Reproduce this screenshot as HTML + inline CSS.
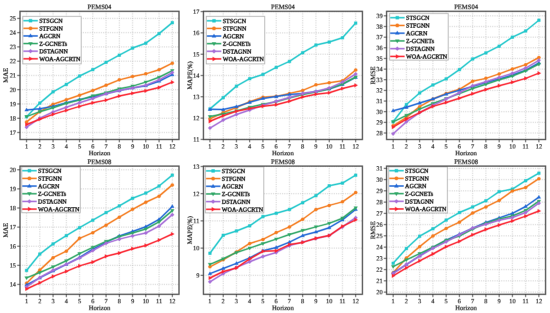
<!DOCTYPE html>
<html><head><meta charset="utf-8"><style>
html,body{margin:0;padding:0;background:#fff;}
body{width:550px;height:313px;overflow:hidden;font-family:"Liberation Serif",serif;}
svg{display:block;will-change:transform;}
text{font-family:"Liberation Serif",serif;fill:#000;stroke:#000;}
.l{stroke-width:0.26px;}
.t{stroke-width:0.1px;}
.a{stroke-width:0.14px;}
</style></head><body>
<svg width="550" height="313" viewBox="0 0 550 313">
<g id="c" transform="translate(-0.25 -0.25)">
<rect x="-2" y="-2" width="554" height="317" fill="#fff"/>
<path d="M26.55 11.3V139.5M39.8 11.3V139.5M53.05 11.3V139.5M66.3 11.3V139.5M79.55 11.3V139.5M92.8 11.3V139.5M106.05 11.3V139.5M119.3 11.3V139.5M132.55 11.3V139.5M145.8 11.3V139.5M159.05 11.3V139.5M172.3 11.3V139.5M20 132.48H179M20 118.22H179M20 103.96H179M20 89.7H179M20 75.44H179M20 61.18H179M20 46.92H179M20 32.66H179M20 18.4H179" stroke="#a8a8a8" stroke-width="0.65" stroke-dasharray="0.8 1.45" fill="none"/>
<polyline points="26.55,116.79 39.8,103.1 53.05,91.84 66.3,84.42 79.55,76.01 92.8,69.59 106.05,62.32 119.3,55.19 132.55,48.06 145.8,43.21 159.05,33.66 172.3,22.68" stroke="#22c8cc" stroke-width="1.5" fill="none" stroke-linejoin="round"/>
<rect x="25" y="115.24" width="3.1" height="3.1" fill="#22c8cc"/>
<rect x="38.25" y="101.55" width="3.1" height="3.1" fill="#22c8cc"/>
<rect x="51.5" y="90.29" width="3.1" height="3.1" fill="#22c8cc"/>
<rect x="64.75" y="82.87" width="3.1" height="3.1" fill="#22c8cc"/>
<rect x="78" y="74.46" width="3.1" height="3.1" fill="#22c8cc"/>
<rect x="91.25" y="68.04" width="3.1" height="3.1" fill="#22c8cc"/>
<rect x="104.5" y="60.77" width="3.1" height="3.1" fill="#22c8cc"/>
<rect x="117.75" y="53.64" width="3.1" height="3.1" fill="#22c8cc"/>
<rect x="131" y="46.51" width="3.1" height="3.1" fill="#22c8cc"/>
<rect x="144.25" y="41.66" width="3.1" height="3.1" fill="#22c8cc"/>
<rect x="157.5" y="32.11" width="3.1" height="3.1" fill="#22c8cc"/>
<rect x="170.75" y="21.13" width="3.1" height="3.1" fill="#22c8cc"/>
<polyline points="26.55,121.93 39.8,111.66 53.05,104.25 66.3,99.68 79.55,95.26 92.8,90.56 106.05,85.28 119.3,79.86 132.55,76.58 145.8,73.87 159.05,69.74 172.3,63.18" stroke="#f57c1e" stroke-width="1.5" fill="none" stroke-linejoin="round"/>
<circle cx="26.55" cy="121.93" r="1.75" fill="#f57c1e"/>
<circle cx="39.8" cy="111.66" r="1.75" fill="#f57c1e"/>
<circle cx="53.05" cy="104.25" r="1.75" fill="#f57c1e"/>
<circle cx="66.3" cy="99.68" r="1.75" fill="#f57c1e"/>
<circle cx="79.55" cy="95.26" r="1.75" fill="#f57c1e"/>
<circle cx="92.8" cy="90.56" r="1.75" fill="#f57c1e"/>
<circle cx="106.05" cy="85.28" r="1.75" fill="#f57c1e"/>
<circle cx="119.3" cy="79.86" r="1.75" fill="#f57c1e"/>
<circle cx="132.55" cy="76.58" r="1.75" fill="#f57c1e"/>
<circle cx="145.8" cy="73.87" r="1.75" fill="#f57c1e"/>
<circle cx="159.05" cy="69.74" r="1.75" fill="#f57c1e"/>
<circle cx="172.3" cy="63.18" r="1.75" fill="#f57c1e"/>
<polyline points="26.55,109.95 39.8,108.67 53.05,106.38 66.3,102.82 79.55,99.4 92.8,96.69 106.05,93.69 119.3,90.56 132.55,87.99 145.8,85.71 159.05,81.29 172.3,74.58" stroke="#2168d6" stroke-width="1.5" fill="none" stroke-linejoin="round"/>
<polygon points="26.55,107.75 24.46,111.27 28.64,111.27" fill="#2168d6"/>
<polygon points="39.8,106.47 37.71,109.99 41.89,109.99" fill="#2168d6"/>
<polygon points="53.05,104.18 50.96,107.7 55.14,107.7" fill="#2168d6"/>
<polygon points="66.3,100.62 64.21,104.14 68.39,104.14" fill="#2168d6"/>
<polygon points="79.55,97.2 77.46,100.72 81.64,100.72" fill="#2168d6"/>
<polygon points="92.8,94.49 90.71,98.01 94.89,98.01" fill="#2168d6"/>
<polygon points="106.05,91.49 103.96,95.01 108.14,95.01" fill="#2168d6"/>
<polygon points="119.3,88.36 117.21,91.88 121.39,91.88" fill="#2168d6"/>
<polygon points="132.55,85.79 130.46,89.31 134.64,89.31" fill="#2168d6"/>
<polygon points="145.8,83.51 143.71,87.03 147.89,87.03" fill="#2168d6"/>
<polygon points="159.05,79.09 156.96,82.61 161.14,82.61" fill="#2168d6"/>
<polygon points="172.3,72.38 170.21,75.9 174.39,75.9" fill="#2168d6"/>
<polyline points="26.55,116.65 39.8,111.66 53.05,107.81 66.3,103.39 79.55,100.11 92.8,95.83 106.05,92.84 119.3,88.84 132.55,86.13 145.8,82.14 159.05,77.29 172.3,70.59" stroke="#2fa766" stroke-width="1.5" fill="none" stroke-linejoin="round"/>
<polygon points="26.55,118.85 24.46,115.33 28.64,115.33" fill="#2fa766"/>
<polygon points="39.8,113.86 37.71,110.34 41.89,110.34" fill="#2fa766"/>
<polygon points="53.05,110.01 50.96,106.49 55.14,106.49" fill="#2fa766"/>
<polygon points="66.3,105.59 64.21,102.07 68.39,102.07" fill="#2fa766"/>
<polygon points="79.55,102.31 77.46,98.79 81.64,98.79" fill="#2fa766"/>
<polygon points="92.8,98.03 90.71,94.51 94.89,94.51" fill="#2fa766"/>
<polygon points="106.05,95.04 103.96,91.52 108.14,91.52" fill="#2fa766"/>
<polygon points="119.3,91.04 117.21,87.52 121.39,87.52" fill="#2fa766"/>
<polygon points="132.55,88.33 130.46,84.81 134.64,84.81" fill="#2fa766"/>
<polygon points="145.8,84.34 143.71,80.82 147.89,80.82" fill="#2fa766"/>
<polygon points="159.05,79.49 156.96,75.97 161.14,75.97" fill="#2fa766"/>
<polygon points="172.3,72.79 170.21,69.27 174.39,69.27" fill="#2fa766"/>
<polyline points="26.55,127.2 39.8,118.08 53.05,111.95 66.3,107.24 79.55,102.82 92.8,98.54 106.05,93.69 119.3,90.56 132.55,87.99 145.8,85.14 159.05,79.86 172.3,72.59" stroke="#a66dd8" stroke-width="1.5" fill="none" stroke-linejoin="round"/>
<polygon points="26.55,125.2 28.55,127.2 26.55,129.2 24.55,127.2" fill="#a66dd8"/>
<polygon points="39.8,116.08 41.8,118.08 39.8,120.08 37.8,118.08" fill="#a66dd8"/>
<polygon points="53.05,109.95 55.05,111.95 53.05,113.95 51.05,111.95" fill="#a66dd8"/>
<polygon points="66.3,105.24 68.3,107.24 66.3,109.24 64.3,107.24" fill="#a66dd8"/>
<polygon points="79.55,100.82 81.55,102.82 79.55,104.82 77.55,102.82" fill="#a66dd8"/>
<polygon points="92.8,96.54 94.8,98.54 92.8,100.54 90.8,98.54" fill="#a66dd8"/>
<polygon points="106.05,91.69 108.05,93.69 106.05,95.69 104.05,93.69" fill="#a66dd8"/>
<polygon points="119.3,88.56 121.3,90.56 119.3,92.56 117.3,90.56" fill="#a66dd8"/>
<polygon points="132.55,85.99 134.55,87.99 132.55,89.99 130.55,87.99" fill="#a66dd8"/>
<polygon points="145.8,83.14 147.8,85.14 145.8,87.14 143.8,85.14" fill="#a66dd8"/>
<polygon points="159.05,77.86 161.05,79.86 159.05,81.86 157.05,79.86" fill="#a66dd8"/>
<polygon points="172.3,70.59 174.3,72.59 172.3,74.59 170.3,72.59" fill="#a66dd8"/>
<polyline points="26.55,124.49 39.8,119.22 53.05,114.37 66.3,110.38 79.55,106.38 92.8,102.82 106.05,100.11 119.3,95.97 132.55,93.26 145.8,90.84 159.05,87.56 172.3,82.14" stroke="#fb2430" stroke-width="1.5" fill="none" stroke-linejoin="round"/>
<polygon points="28.75,124.49 25.23,122.4 25.23,126.58" fill="#fb2430"/>
<polygon points="42,119.22 38.48,117.13 38.48,121.31" fill="#fb2430"/>
<polygon points="55.25,114.37 51.73,112.28 51.73,116.46" fill="#fb2430"/>
<polygon points="68.5,110.38 64.98,108.29 64.98,112.47" fill="#fb2430"/>
<polygon points="81.75,106.38 78.23,104.29 78.23,108.47" fill="#fb2430"/>
<polygon points="95,102.82 91.48,100.73 91.48,104.91" fill="#fb2430"/>
<polygon points="108.25,100.11 104.73,98.02 104.73,102.2" fill="#fb2430"/>
<polygon points="121.5,95.97 117.98,93.88 117.98,98.06" fill="#fb2430"/>
<polygon points="134.75,93.26 131.23,91.17 131.23,95.35" fill="#fb2430"/>
<polygon points="148,90.84 144.48,88.75 144.48,92.93" fill="#fb2430"/>
<polygon points="161.25,87.56 157.73,85.47 157.73,89.65" fill="#fb2430"/>
<polygon points="174.5,82.14 170.98,80.05 170.98,84.23" fill="#fb2430"/>
<rect x="22.8" y="16.4" width="58.4" height="47.5" fill="#fff" stroke="#b0b0b0" stroke-width="0.8"/>
<line x1="23.4" y1="20.7" x2="37.8" y2="20.7" stroke="#22c8cc" stroke-width="1.5"/>
<rect x="28.83" y="19.03" width="3.35" height="3.35" fill="#22c8cc"/>
<text class="l" x="39.2" y="22.8" transform="rotate(0.1 39.2 22.8)" font-size="6.1">STSGCN</text>
<line x1="23.4" y1="28.32" x2="37.8" y2="28.32" stroke="#f57c1e" stroke-width="1.5"/>
<circle cx="30.5" cy="28.32" r="1.89" fill="#f57c1e"/>
<text class="l" x="39.2" y="30.42" transform="rotate(0.1 39.2 30.42)" font-size="6.1">STFGNN</text>
<line x1="23.4" y1="35.94" x2="37.8" y2="35.94" stroke="#2168d6" stroke-width="1.5"/>
<polygon points="30.5,33.56 28.24,37.37 32.76,37.37" fill="#2168d6"/>
<text class="l" x="39.2" y="38.04" transform="rotate(0.1 39.2 38.04)" font-size="6.1">AGCRN</text>
<line x1="23.4" y1="43.56" x2="37.8" y2="43.56" stroke="#2fa766" stroke-width="1.5"/>
<polygon points="30.5,45.94 28.24,42.13 32.76,42.13" fill="#2fa766"/>
<text class="l" x="39.2" y="45.66" transform="rotate(0.1 39.2 45.66)" font-size="6.1">Z-GCNETs</text>
<line x1="23.4" y1="51.18" x2="37.8" y2="51.18" stroke="#a66dd8" stroke-width="1.5"/>
<polygon points="30.5,49.02 32.66,51.18 30.5,53.34 28.34,51.18" fill="#a66dd8"/>
<text class="l" x="39.2" y="53.28" transform="rotate(0.1 39.2 53.28)" font-size="6.1">DSTAGNN</text>
<line x1="23.4" y1="58.8" x2="37.8" y2="58.8" stroke="#fb2430" stroke-width="1.5"/>
<polygon points="32.88,58.8 29.07,56.54 29.07,61.06" fill="#fb2430"/>
<text class="l" x="39.2" y="60.9" transform="rotate(0.1 39.2 60.9)" font-size="6.1">WOA-AGCRTN</text>
<rect x="20" y="11.3" width="159" height="128.2" fill="none" stroke="#525252" stroke-width="1.3"/>
<path d="M26.55 139.5v2.8M39.8 139.5v2.8M53.05 139.5v2.8M66.3 139.5v2.8M79.55 139.5v2.8M92.8 139.5v2.8M106.05 139.5v2.8M119.3 139.5v2.8M132.55 139.5v2.8M145.8 139.5v2.8M159.05 139.5v2.8M172.3 139.5v2.8M20 132.48h-2.8M20 118.22h-2.8M20 103.96h-2.8M20 89.7h-2.8M20 75.44h-2.8M20 61.18h-2.8M20 46.92h-2.8M20 32.66h-2.8M20 18.4h-2.8" stroke="#333" stroke-width="0.8" fill="none"/>
<text class="t" x="26.55" y="148.5" transform="rotate(0.1 26.55 148.5)" font-size="6.3" text-anchor="middle">1</text>
<text class="t" x="39.8" y="148.5" transform="rotate(0.1 39.8 148.5)" font-size="6.3" text-anchor="middle">2</text>
<text class="t" x="53.05" y="148.5" transform="rotate(0.1 53.05 148.5)" font-size="6.3" text-anchor="middle">3</text>
<text class="t" x="66.3" y="148.5" transform="rotate(0.1 66.3 148.5)" font-size="6.3" text-anchor="middle">4</text>
<text class="t" x="79.55" y="148.5" transform="rotate(0.1 79.55 148.5)" font-size="6.3" text-anchor="middle">5</text>
<text class="t" x="92.8" y="148.5" transform="rotate(0.1 92.8 148.5)" font-size="6.3" text-anchor="middle">6</text>
<text class="t" x="106.05" y="148.5" transform="rotate(0.1 106.05 148.5)" font-size="6.3" text-anchor="middle">7</text>
<text class="t" x="119.3" y="148.5" transform="rotate(0.1 119.3 148.5)" font-size="6.3" text-anchor="middle">8</text>
<text class="t" x="132.55" y="148.5" transform="rotate(0.1 132.55 148.5)" font-size="6.3" text-anchor="middle">9</text>
<text class="t" x="145.8" y="148.5" transform="rotate(0.1 145.8 148.5)" font-size="6.3" text-anchor="middle">10</text>
<text class="t" x="159.05" y="148.5" transform="rotate(0.1 159.05 148.5)" font-size="6.3" text-anchor="middle">11</text>
<text class="t" x="172.3" y="148.5" transform="rotate(0.1 172.3 148.5)" font-size="6.3" text-anchor="middle">12</text>
<text class="t" x="16" y="134.68" transform="rotate(0.1 16 134.68)" font-size="6.3" text-anchor="end">17</text>
<text class="t" x="16" y="120.42" transform="rotate(0.1 16 120.42)" font-size="6.3" text-anchor="end">18</text>
<text class="t" x="16" y="106.16" transform="rotate(0.1 16 106.16)" font-size="6.3" text-anchor="end">19</text>
<text class="t" x="16" y="91.9" transform="rotate(0.1 16 91.9)" font-size="6.3" text-anchor="end">20</text>
<text class="t" x="16" y="77.64" transform="rotate(0.1 16 77.64)" font-size="6.3" text-anchor="end">21</text>
<text class="t" x="16" y="63.38" transform="rotate(0.1 16 63.38)" font-size="6.3" text-anchor="end">22</text>
<text class="t" x="16" y="49.12" transform="rotate(0.1 16 49.12)" font-size="6.3" text-anchor="end">23</text>
<text class="t" x="16" y="34.86" transform="rotate(0.1 16 34.86)" font-size="6.3" text-anchor="end">24</text>
<text class="t" x="16" y="20.6" transform="rotate(0.1 16 20.6)" font-size="6.3" text-anchor="end">25</text>
<text class="a" x="99.5" y="155.3" transform="rotate(0.1 99.5 155.3)" font-size="6.6" text-anchor="middle">Horizon</text>
<text class="a" x="99.5" y="9.1" transform="rotate(0.1 99.5 9.1)" font-size="6.6" text-anchor="middle">PEMS04</text>
<text class="a" x="7.8" y="75.4" transform="rotate(-89.9 7.8 75.4)" font-size="6.6" text-anchor="middle">MAE</text>
<path d="M209.95 11.3V139.5M223.2 11.3V139.5M236.45 11.3V139.5M249.7 11.3V139.5M262.95 11.3V139.5M276.2 11.3V139.5M289.45 11.3V139.5M302.7 11.3V139.5M315.95 11.3V139.5M329.2 11.3V139.5M342.45 11.3V139.5M355.7 11.3V139.5M203.4 139.4H362.4M203.4 118.1H362.4M203.4 96.8H362.4M203.4 75.5H362.4M203.4 54.2H362.4M203.4 32.9H362.4M203.4 11.6H362.4" stroke="#a8a8a8" stroke-width="0.65" stroke-dasharray="0.8 1.45" fill="none"/>
<polyline points="209.95,108.94 223.2,97.65 236.45,86.15 249.7,78.7 262.95,74.43 276.2,67.41 289.45,61.44 302.7,52.71 315.95,45.04 329.2,42.06 342.45,37.8 355.7,23.1" stroke="#22c8cc" stroke-width="1.5" fill="none" stroke-linejoin="round"/>
<rect x="208.4" y="107.39" width="3.1" height="3.1" fill="#22c8cc"/>
<rect x="221.65" y="96.1" width="3.1" height="3.1" fill="#22c8cc"/>
<rect x="234.9" y="84.6" width="3.1" height="3.1" fill="#22c8cc"/>
<rect x="248.15" y="77.15" width="3.1" height="3.1" fill="#22c8cc"/>
<rect x="261.4" y="72.88" width="3.1" height="3.1" fill="#22c8cc"/>
<rect x="274.65" y="65.86" width="3.1" height="3.1" fill="#22c8cc"/>
<rect x="287.9" y="59.89" width="3.1" height="3.1" fill="#22c8cc"/>
<rect x="301.15" y="51.16" width="3.1" height="3.1" fill="#22c8cc"/>
<rect x="314.4" y="43.49" width="3.1" height="3.1" fill="#22c8cc"/>
<rect x="327.65" y="40.51" width="3.1" height="3.1" fill="#22c8cc"/>
<rect x="340.9" y="36.25" width="3.1" height="3.1" fill="#22c8cc"/>
<rect x="354.15" y="21.55" width="3.1" height="3.1" fill="#22c8cc"/>
<polyline points="209.95,118.74 223.2,112.56 236.45,107.45 249.7,101.7 262.95,97.23 276.2,96.37 289.45,93.39 302.7,90.41 315.95,84.87 329.2,82.74 342.45,80.83 355.7,69.96" stroke="#f57c1e" stroke-width="1.5" fill="none" stroke-linejoin="round"/>
<circle cx="209.95" cy="118.74" r="1.75" fill="#f57c1e"/>
<circle cx="223.2" cy="112.56" r="1.75" fill="#f57c1e"/>
<circle cx="236.45" cy="107.45" r="1.75" fill="#f57c1e"/>
<circle cx="249.7" cy="101.7" r="1.75" fill="#f57c1e"/>
<circle cx="262.95" cy="97.23" r="1.75" fill="#f57c1e"/>
<circle cx="276.2" cy="96.37" r="1.75" fill="#f57c1e"/>
<circle cx="289.45" cy="93.39" r="1.75" fill="#f57c1e"/>
<circle cx="302.7" cy="90.41" r="1.75" fill="#f57c1e"/>
<circle cx="315.95" cy="84.87" r="1.75" fill="#f57c1e"/>
<circle cx="329.2" cy="82.74" r="1.75" fill="#f57c1e"/>
<circle cx="342.45" cy="80.83" r="1.75" fill="#f57c1e"/>
<circle cx="355.7" cy="69.96" r="1.75" fill="#f57c1e"/>
<polyline points="209.95,109.37 223.2,109.58 236.45,106.6 249.7,102.34 262.95,98.5 276.2,96.59 289.45,94.46 302.7,93.39 315.95,91.47 329.2,88.92 342.45,84.45 355.7,77.42" stroke="#2168d6" stroke-width="1.5" fill="none" stroke-linejoin="round"/>
<polygon points="209.95,107.17 207.86,110.69 212.04,110.69" fill="#2168d6"/>
<polygon points="223.2,107.38 221.11,110.9 225.29,110.9" fill="#2168d6"/>
<polygon points="236.45,104.4 234.36,107.92 238.54,107.92" fill="#2168d6"/>
<polygon points="249.7,100.14 247.61,103.66 251.79,103.66" fill="#2168d6"/>
<polygon points="262.95,96.3 260.86,99.82 265.04,99.82" fill="#2168d6"/>
<polygon points="276.2,94.39 274.11,97.91 278.29,97.91" fill="#2168d6"/>
<polygon points="289.45,92.26 287.36,95.78 291.54,95.78" fill="#2168d6"/>
<polygon points="302.7,91.19 300.61,94.71 304.79,94.71" fill="#2168d6"/>
<polygon points="315.95,89.27 313.86,92.79 318.04,92.79" fill="#2168d6"/>
<polygon points="329.2,86.72 327.11,90.24 331.29,90.24" fill="#2168d6"/>
<polygon points="342.45,82.25 340.36,85.77 344.54,85.77" fill="#2168d6"/>
<polygon points="355.7,75.22 353.61,78.74 357.79,78.74" fill="#2168d6"/>
<polyline points="209.95,116.61 223.2,114.05 236.45,110.86 249.7,107.24 262.95,104.25 276.2,101.7 289.45,98.08 302.7,94.46 315.95,91.9 329.2,88.92 342.45,84.02 355.7,76.99" stroke="#2fa766" stroke-width="1.5" fill="none" stroke-linejoin="round"/>
<polygon points="209.95,118.81 207.86,115.29 212.04,115.29" fill="#2fa766"/>
<polygon points="223.2,116.25 221.11,112.73 225.29,112.73" fill="#2fa766"/>
<polygon points="236.45,113.06 234.36,109.54 238.54,109.54" fill="#2fa766"/>
<polygon points="249.7,109.44 247.61,105.92 251.79,105.92" fill="#2fa766"/>
<polygon points="262.95,106.45 260.86,102.94 265.04,102.94" fill="#2fa766"/>
<polygon points="276.2,103.9 274.11,100.38 278.29,100.38" fill="#2fa766"/>
<polygon points="289.45,100.28 287.36,96.76 291.54,96.76" fill="#2fa766"/>
<polygon points="302.7,96.66 300.61,93.14 304.79,93.14" fill="#2fa766"/>
<polygon points="315.95,94.1 313.86,90.58 318.04,90.58" fill="#2fa766"/>
<polygon points="329.2,91.12 327.11,87.6 331.29,87.6" fill="#2fa766"/>
<polygon points="342.45,86.22 340.36,82.7 344.54,82.7" fill="#2fa766"/>
<polygon points="355.7,79.19 353.61,75.67 357.79,75.67" fill="#2fa766"/>
<polyline points="209.95,128.11 223.2,120.02 236.45,114.48 249.7,110.01 262.95,105.32 276.2,101.27 289.45,97.44 302.7,93.6 315.95,91.47 329.2,88.07 342.45,82.1 355.7,74.01" stroke="#a66dd8" stroke-width="1.5" fill="none" stroke-linejoin="round"/>
<polygon points="209.95,126.11 211.95,128.11 209.95,130.11 207.95,128.11" fill="#a66dd8"/>
<polygon points="223.2,118.02 225.2,120.02 223.2,122.02 221.2,120.02" fill="#a66dd8"/>
<polygon points="236.45,112.48 238.45,114.48 236.45,116.48 234.45,114.48" fill="#a66dd8"/>
<polygon points="249.7,108.01 251.7,110.01 249.7,112.01 247.7,110.01" fill="#a66dd8"/>
<polygon points="262.95,103.32 264.95,105.32 262.95,107.32 260.95,105.32" fill="#a66dd8"/>
<polygon points="276.2,99.27 278.2,101.27 276.2,103.27 274.2,101.27" fill="#a66dd8"/>
<polygon points="289.45,95.44 291.45,97.44 289.45,99.44 287.45,97.44" fill="#a66dd8"/>
<polygon points="302.7,91.6 304.7,93.6 302.7,95.6 300.7,93.6" fill="#a66dd8"/>
<polygon points="315.95,89.47 317.95,91.47 315.95,93.47 313.95,91.47" fill="#a66dd8"/>
<polygon points="329.2,86.07 331.2,88.07 329.2,90.07 327.2,88.07" fill="#a66dd8"/>
<polygon points="342.45,80.1 344.45,82.1 342.45,84.1 340.45,82.1" fill="#a66dd8"/>
<polygon points="355.7,72.01 357.7,74.01 355.7,76.01 353.7,74.01" fill="#a66dd8"/>
<polyline points="209.95,121.3 223.2,115.76 236.45,111.28 249.7,108.52 262.95,106.17 276.2,104.68 289.45,101.27 302.7,97.01 315.95,94.24 329.2,92.75 342.45,88.49 355.7,85.3" stroke="#fb2430" stroke-width="1.5" fill="none" stroke-linejoin="round"/>
<polygon points="212.15,121.3 208.63,119.21 208.63,123.39" fill="#fb2430"/>
<polygon points="225.4,115.76 221.88,113.67 221.88,117.85" fill="#fb2430"/>
<polygon points="238.65,111.28 235.13,109.19 235.13,113.37" fill="#fb2430"/>
<polygon points="251.9,108.52 248.38,106.43 248.38,110.61" fill="#fb2430"/>
<polygon points="265.15,106.17 261.63,104.08 261.63,108.26" fill="#fb2430"/>
<polygon points="278.4,104.68 274.88,102.59 274.88,106.77" fill="#fb2430"/>
<polygon points="291.65,101.27 288.13,99.18 288.13,103.36" fill="#fb2430"/>
<polygon points="304.9,97.01 301.38,94.92 301.38,99.1" fill="#fb2430"/>
<polygon points="318.15,94.24 314.63,92.15 314.63,96.33" fill="#fb2430"/>
<polygon points="331.4,92.75 327.88,90.66 327.88,94.84" fill="#fb2430"/>
<polygon points="344.65,88.49 341.13,86.4 341.13,90.58" fill="#fb2430"/>
<polygon points="357.9,85.3 354.38,83.21 354.38,87.39" fill="#fb2430"/>
<rect x="206.3" y="16.4" width="58.4" height="47.5" fill="#fff" stroke="#b0b0b0" stroke-width="0.8"/>
<line x1="206.9" y1="20.8" x2="221.3" y2="20.8" stroke="#22c8cc" stroke-width="1.5"/>
<rect x="212.33" y="19.13" width="3.35" height="3.35" fill="#22c8cc"/>
<text class="l" x="222.7" y="22.9" transform="rotate(0.1 222.7 22.9)" font-size="6.1">STSGCN</text>
<line x1="206.9" y1="28.42" x2="221.3" y2="28.42" stroke="#f57c1e" stroke-width="1.5"/>
<circle cx="214" cy="28.42" r="1.89" fill="#f57c1e"/>
<text class="l" x="222.7" y="30.52" transform="rotate(0.1 222.7 30.52)" font-size="6.1">STFGNN</text>
<line x1="206.9" y1="36.04" x2="221.3" y2="36.04" stroke="#2168d6" stroke-width="1.5"/>
<polygon points="214,33.66 211.74,37.47 216.26,37.47" fill="#2168d6"/>
<text class="l" x="222.7" y="38.14" transform="rotate(0.1 222.7 38.14)" font-size="6.1">AGCRN</text>
<line x1="206.9" y1="43.66" x2="221.3" y2="43.66" stroke="#2fa766" stroke-width="1.5"/>
<polygon points="214,46.04 211.74,42.23 216.26,42.23" fill="#2fa766"/>
<text class="l" x="222.7" y="45.76" transform="rotate(0.1 222.7 45.76)" font-size="6.1">Z-GCNETs</text>
<line x1="206.9" y1="51.28" x2="221.3" y2="51.28" stroke="#a66dd8" stroke-width="1.5"/>
<polygon points="214,49.12 216.16,51.28 214,53.44 211.84,51.28" fill="#a66dd8"/>
<text class="l" x="222.7" y="53.38" transform="rotate(0.1 222.7 53.38)" font-size="6.1">DSTAGNN</text>
<line x1="206.9" y1="58.9" x2="221.3" y2="58.9" stroke="#fb2430" stroke-width="1.5"/>
<polygon points="216.38,58.9 212.57,56.64 212.57,61.16" fill="#fb2430"/>
<text class="l" x="222.7" y="61" transform="rotate(0.1 222.7 61)" font-size="6.1">WOA-AGCRTN</text>
<rect x="203.4" y="11.3" width="159" height="128.2" fill="none" stroke="#525252" stroke-width="1.3"/>
<path d="M209.95 139.5v2.8M223.2 139.5v2.8M236.45 139.5v2.8M249.7 139.5v2.8M262.95 139.5v2.8M276.2 139.5v2.8M289.45 139.5v2.8M302.7 139.5v2.8M315.95 139.5v2.8M329.2 139.5v2.8M342.45 139.5v2.8M355.7 139.5v2.8M203.4 139.4h-2.8M203.4 118.1h-2.8M203.4 96.8h-2.8M203.4 75.5h-2.8M203.4 54.2h-2.8M203.4 32.9h-2.8M203.4 11.6h-2.8" stroke="#333" stroke-width="0.8" fill="none"/>
<text class="t" x="209.95" y="148.5" transform="rotate(0.1 209.95 148.5)" font-size="6.3" text-anchor="middle">1</text>
<text class="t" x="223.2" y="148.5" transform="rotate(0.1 223.2 148.5)" font-size="6.3" text-anchor="middle">2</text>
<text class="t" x="236.45" y="148.5" transform="rotate(0.1 236.45 148.5)" font-size="6.3" text-anchor="middle">3</text>
<text class="t" x="249.7" y="148.5" transform="rotate(0.1 249.7 148.5)" font-size="6.3" text-anchor="middle">4</text>
<text class="t" x="262.95" y="148.5" transform="rotate(0.1 262.95 148.5)" font-size="6.3" text-anchor="middle">5</text>
<text class="t" x="276.2" y="148.5" transform="rotate(0.1 276.2 148.5)" font-size="6.3" text-anchor="middle">6</text>
<text class="t" x="289.45" y="148.5" transform="rotate(0.1 289.45 148.5)" font-size="6.3" text-anchor="middle">7</text>
<text class="t" x="302.7" y="148.5" transform="rotate(0.1 302.7 148.5)" font-size="6.3" text-anchor="middle">8</text>
<text class="t" x="315.95" y="148.5" transform="rotate(0.1 315.95 148.5)" font-size="6.3" text-anchor="middle">9</text>
<text class="t" x="329.2" y="148.5" transform="rotate(0.1 329.2 148.5)" font-size="6.3" text-anchor="middle">10</text>
<text class="t" x="342.45" y="148.5" transform="rotate(0.1 342.45 148.5)" font-size="6.3" text-anchor="middle">11</text>
<text class="t" x="355.7" y="148.5" transform="rotate(0.1 355.7 148.5)" font-size="6.3" text-anchor="middle">12</text>
<text class="t" x="199.4" y="141.6" transform="rotate(0.1 199.4 141.6)" font-size="6.3" text-anchor="end">11</text>
<text class="t" x="199.4" y="120.3" transform="rotate(0.1 199.4 120.3)" font-size="6.3" text-anchor="end">12</text>
<text class="t" x="199.4" y="99" transform="rotate(0.1 199.4 99)" font-size="6.3" text-anchor="end">13</text>
<text class="t" x="199.4" y="77.7" transform="rotate(0.1 199.4 77.7)" font-size="6.3" text-anchor="end">14</text>
<text class="t" x="199.4" y="56.4" transform="rotate(0.1 199.4 56.4)" font-size="6.3" text-anchor="end">15</text>
<text class="t" x="199.4" y="35.1" transform="rotate(0.1 199.4 35.1)" font-size="6.3" text-anchor="end">16</text>
<text class="t" x="199.4" y="13.8" transform="rotate(0.1 199.4 13.8)" font-size="6.3" text-anchor="end">17</text>
<text class="a" x="282.9" y="155.3" transform="rotate(0.1 282.9 155.3)" font-size="6.6" text-anchor="middle">Horizon</text>
<text class="a" x="282.9" y="9.1" transform="rotate(0.1 282.9 9.1)" font-size="6.6" text-anchor="middle">PEMS04</text>
<text class="a" x="191.9" y="75.4" transform="rotate(-89.9 191.9 75.4)" font-size="6.6" text-anchor="middle">MAPE(%)</text>
<path d="M393.15 11.3V139.5M406.4 11.3V139.5M419.65 11.3V139.5M432.9 11.3V139.5M446.15 11.3V139.5M459.4 11.3V139.5M472.65 11.3V139.5M485.9 11.3V139.5M499.15 11.3V139.5M512.4 11.3V139.5M525.65 11.3V139.5M538.9 11.3V139.5M386.6 133H545.6M386.6 122.35H545.6M386.6 111.7H545.6M386.6 101.05H545.6M386.6 90.4H545.6M386.6 79.75H545.6M386.6 69.1H545.6M386.6 58.45H545.6M386.6 47.8H545.6M386.6 37.15H545.6M386.6 26.5H545.6M386.6 15.85H545.6" stroke="#a8a8a8" stroke-width="0.65" stroke-dasharray="0.8 1.45" fill="none"/>
<polyline points="393.15,121.82 406.4,104.56 419.65,92.96 432.9,84.97 446.15,78.9 459.4,69.63 472.65,58.98 485.9,52.91 499.15,46.2 512.4,37.15 525.65,30.97 538.9,20.22" stroke="#22c8cc" stroke-width="1.5" fill="none" stroke-linejoin="round"/>
<rect x="391.6" y="120.27" width="3.1" height="3.1" fill="#22c8cc"/>
<rect x="404.85" y="103.01" width="3.1" height="3.1" fill="#22c8cc"/>
<rect x="418.1" y="91.41" width="3.1" height="3.1" fill="#22c8cc"/>
<rect x="431.35" y="83.42" width="3.1" height="3.1" fill="#22c8cc"/>
<rect x="444.6" y="77.35" width="3.1" height="3.1" fill="#22c8cc"/>
<rect x="457.85" y="68.08" width="3.1" height="3.1" fill="#22c8cc"/>
<rect x="471.1" y="57.43" width="3.1" height="3.1" fill="#22c8cc"/>
<rect x="484.35" y="51.36" width="3.1" height="3.1" fill="#22c8cc"/>
<rect x="497.6" y="44.65" width="3.1" height="3.1" fill="#22c8cc"/>
<rect x="510.85" y="35.6" width="3.1" height="3.1" fill="#22c8cc"/>
<rect x="524.1" y="29.42" width="3.1" height="3.1" fill="#22c8cc"/>
<rect x="537.35" y="18.67" width="3.1" height="3.1" fill="#22c8cc"/>
<polyline points="393.15,125.86 406.4,117.45 419.65,106.69 432.9,99.03 446.15,93.49 459.4,89.33 472.65,81.24 485.9,78.37 499.15,73.89 512.4,68.99 525.65,64.63 538.9,57.49" stroke="#f57c1e" stroke-width="1.5" fill="none" stroke-linejoin="round"/>
<circle cx="393.15" cy="125.86" r="1.75" fill="#f57c1e"/>
<circle cx="406.4" cy="117.45" r="1.75" fill="#f57c1e"/>
<circle cx="419.65" cy="106.69" r="1.75" fill="#f57c1e"/>
<circle cx="432.9" cy="99.03" r="1.75" fill="#f57c1e"/>
<circle cx="446.15" cy="93.49" r="1.75" fill="#f57c1e"/>
<circle cx="459.4" cy="89.33" r="1.75" fill="#f57c1e"/>
<circle cx="472.65" cy="81.24" r="1.75" fill="#f57c1e"/>
<circle cx="485.9" cy="78.37" r="1.75" fill="#f57c1e"/>
<circle cx="499.15" cy="73.89" r="1.75" fill="#f57c1e"/>
<circle cx="512.4" cy="68.99" r="1.75" fill="#f57c1e"/>
<circle cx="525.65" cy="64.63" r="1.75" fill="#f57c1e"/>
<circle cx="538.9" cy="57.49" r="1.75" fill="#f57c1e"/>
<polyline points="393.15,110.74 406.4,107.33 419.65,103.07 432.9,99.03 446.15,94.13 459.4,90.29 472.65,86.57 485.9,82.41 499.15,79 512.4,75.06 525.65,70.27 538.9,63.03" stroke="#2168d6" stroke-width="1.5" fill="none" stroke-linejoin="round"/>
<polygon points="393.15,108.54 391.06,112.06 395.24,112.06" fill="#2168d6"/>
<polygon points="406.4,105.13 404.31,108.65 408.49,108.65" fill="#2168d6"/>
<polygon points="419.65,100.87 417.56,104.39 421.74,104.39" fill="#2168d6"/>
<polygon points="432.9,96.83 430.81,100.35 434.99,100.35" fill="#2168d6"/>
<polygon points="446.15,91.93 444.06,95.45 448.24,95.45" fill="#2168d6"/>
<polygon points="459.4,88.09 457.31,91.61 461.49,91.61" fill="#2168d6"/>
<polygon points="472.65,84.37 470.56,87.89 474.74,87.89" fill="#2168d6"/>
<polygon points="485.9,80.21 483.81,83.73 487.99,83.73" fill="#2168d6"/>
<polygon points="499.15,76.8 497.06,80.32 501.24,80.32" fill="#2168d6"/>
<polygon points="512.4,72.86 510.31,76.38 514.49,76.38" fill="#2168d6"/>
<polygon points="525.65,68.07 523.56,71.59 527.74,71.59" fill="#2168d6"/>
<polygon points="538.9,60.83 536.81,64.35 540.99,64.35" fill="#2168d6"/>
<polyline points="393.15,121.82 406.4,115.43 419.65,109.14 432.9,103.5 446.15,98.6 459.4,93.59 472.65,88.48 485.9,84.33 499.15,79.86 512.4,76.13 525.65,70.8 538.9,64.2" stroke="#2fa766" stroke-width="1.5" fill="none" stroke-linejoin="round"/>
<polygon points="393.15,124.02 391.06,120.5 395.24,120.5" fill="#2fa766"/>
<polygon points="406.4,117.63 404.31,114.11 408.49,114.11" fill="#2fa766"/>
<polygon points="419.65,111.34 417.56,107.82 421.74,107.82" fill="#2fa766"/>
<polygon points="432.9,105.7 430.81,102.18 434.99,102.18" fill="#2fa766"/>
<polygon points="446.15,100.8 444.06,97.28 448.24,97.28" fill="#2fa766"/>
<polygon points="459.4,95.8 457.31,92.28 461.49,92.28" fill="#2fa766"/>
<polygon points="472.65,90.68 470.56,87.16 474.74,87.16" fill="#2fa766"/>
<polygon points="485.9,86.53 483.81,83.01 487.99,83.01" fill="#2fa766"/>
<polygon points="499.15,82.06 497.06,78.54 501.24,78.54" fill="#2fa766"/>
<polygon points="512.4,78.33 510.31,74.81 514.49,74.81" fill="#2fa766"/>
<polygon points="525.65,73 523.56,69.48 527.74,69.48" fill="#2fa766"/>
<polygon points="538.9,66.4 536.81,62.88 540.99,62.88" fill="#2fa766"/>
<polyline points="393.15,133.75 406.4,121.82 419.65,112.55 432.9,105.31 446.15,99.03 459.4,92.74 472.65,85.71 485.9,81.77 499.15,77.41 512.4,73.36 525.65,68.03 538.9,60.37" stroke="#a66dd8" stroke-width="1.5" fill="none" stroke-linejoin="round"/>
<polygon points="393.15,131.75 395.15,133.75 393.15,135.75 391.15,133.75" fill="#a66dd8"/>
<polygon points="406.4,119.82 408.4,121.82 406.4,123.82 404.4,121.82" fill="#a66dd8"/>
<polygon points="419.65,110.55 421.65,112.55 419.65,114.55 417.65,112.55" fill="#a66dd8"/>
<polygon points="432.9,103.31 434.9,105.31 432.9,107.31 430.9,105.31" fill="#a66dd8"/>
<polygon points="446.15,97.03 448.15,99.03 446.15,101.03 444.15,99.03" fill="#a66dd8"/>
<polygon points="459.4,90.74 461.4,92.74 459.4,94.74 457.4,92.74" fill="#a66dd8"/>
<polygon points="472.65,83.71 474.65,85.71 472.65,87.71 470.65,85.71" fill="#a66dd8"/>
<polygon points="485.9,79.77 487.9,81.77 485.9,83.77 483.9,81.77" fill="#a66dd8"/>
<polygon points="499.15,75.41 501.15,77.41 499.15,79.41 497.15,77.41" fill="#a66dd8"/>
<polygon points="512.4,71.36 514.4,73.36 512.4,75.36 510.4,73.36" fill="#a66dd8"/>
<polygon points="525.65,66.03 527.65,68.03 525.65,70.03 523.65,68.03" fill="#a66dd8"/>
<polygon points="538.9,58.37 540.9,60.37 538.9,62.37 536.9,60.37" fill="#a66dd8"/>
<polyline points="393.15,127.04 406.4,119.15 419.65,112.55 432.9,106.38 446.15,102.43 459.4,98.17 472.65,93.7 485.9,89.55 499.15,85.71 512.4,82.2 525.65,78.37 538.9,73.15" stroke="#fb2430" stroke-width="1.5" fill="none" stroke-linejoin="round"/>
<polygon points="395.35,127.04 391.83,124.95 391.83,129.13" fill="#fb2430"/>
<polygon points="408.6,119.15 405.08,117.06 405.08,121.24" fill="#fb2430"/>
<polygon points="421.85,112.55 418.33,110.46 418.33,114.64" fill="#fb2430"/>
<polygon points="435.1,106.38 431.58,104.28 431.58,108.47" fill="#fb2430"/>
<polygon points="448.35,102.43 444.83,100.34 444.83,104.52" fill="#fb2430"/>
<polygon points="461.6,98.17 458.08,96.08 458.08,100.26" fill="#fb2430"/>
<polygon points="474.85,93.7 471.33,91.61 471.33,95.79" fill="#fb2430"/>
<polygon points="488.1,89.55 484.58,87.46 484.58,91.64" fill="#fb2430"/>
<polygon points="501.35,85.71 497.83,83.62 497.83,87.8" fill="#fb2430"/>
<polygon points="514.6,82.2 511.08,80.11 511.08,84.29" fill="#fb2430"/>
<polygon points="527.85,78.37 524.33,76.28 524.33,80.46" fill="#fb2430"/>
<polygon points="541.1,73.15 537.58,71.06 537.58,75.24" fill="#fb2430"/>
<rect x="389.6" y="13.5" width="58.6" height="46.6" fill="#fff" stroke="#b0b0b0" stroke-width="0.8"/>
<line x1="390.2" y1="17.7" x2="404.6" y2="17.7" stroke="#22c8cc" stroke-width="1.5"/>
<rect x="395.63" y="16.03" width="3.35" height="3.35" fill="#22c8cc"/>
<text class="l" x="406" y="19.8" transform="rotate(0.1 406 19.8)" font-size="6.1">STSGCN</text>
<line x1="390.2" y1="25.44" x2="404.6" y2="25.44" stroke="#f57c1e" stroke-width="1.5"/>
<circle cx="397.3" cy="25.44" r="1.89" fill="#f57c1e"/>
<text class="l" x="406" y="27.54" transform="rotate(0.1 406 27.54)" font-size="6.1">STFGNN</text>
<line x1="390.2" y1="33.18" x2="404.6" y2="33.18" stroke="#2168d6" stroke-width="1.5"/>
<polygon points="397.3,30.8 395.04,34.61 399.56,34.61" fill="#2168d6"/>
<text class="l" x="406" y="35.28" transform="rotate(0.1 406 35.28)" font-size="6.1">AGCRN</text>
<line x1="390.2" y1="40.92" x2="404.6" y2="40.92" stroke="#2fa766" stroke-width="1.5"/>
<polygon points="397.3,43.3 395.04,39.49 399.56,39.49" fill="#2fa766"/>
<text class="l" x="406" y="43.02" transform="rotate(0.1 406 43.02)" font-size="6.1">Z-GCNETs</text>
<line x1="390.2" y1="48.66" x2="404.6" y2="48.66" stroke="#a66dd8" stroke-width="1.5"/>
<polygon points="397.3,46.5 399.46,48.66 397.3,50.82 395.14,48.66" fill="#a66dd8"/>
<text class="l" x="406" y="50.76" transform="rotate(0.1 406 50.76)" font-size="6.1">DSTAGNN</text>
<line x1="390.2" y1="56.4" x2="404.6" y2="56.4" stroke="#fb2430" stroke-width="1.5"/>
<polygon points="399.68,56.4 395.87,54.14 395.87,58.66" fill="#fb2430"/>
<text class="l" x="406" y="58.5" transform="rotate(0.1 406 58.5)" font-size="6.1">WOA-AGCRTN</text>
<rect x="386.6" y="11.3" width="159" height="128.2" fill="none" stroke="#525252" stroke-width="1.3"/>
<path d="M393.15 139.5v2.8M406.4 139.5v2.8M419.65 139.5v2.8M432.9 139.5v2.8M446.15 139.5v2.8M459.4 139.5v2.8M472.65 139.5v2.8M485.9 139.5v2.8M499.15 139.5v2.8M512.4 139.5v2.8M525.65 139.5v2.8M538.9 139.5v2.8M386.6 133h-2.8M386.6 122.35h-2.8M386.6 111.7h-2.8M386.6 101.05h-2.8M386.6 90.4h-2.8M386.6 79.75h-2.8M386.6 69.1h-2.8M386.6 58.45h-2.8M386.6 47.8h-2.8M386.6 37.15h-2.8M386.6 26.5h-2.8M386.6 15.85h-2.8" stroke="#333" stroke-width="0.8" fill="none"/>
<text class="t" x="393.15" y="148.5" transform="rotate(0.1 393.15 148.5)" font-size="6.3" text-anchor="middle">1</text>
<text class="t" x="406.4" y="148.5" transform="rotate(0.1 406.4 148.5)" font-size="6.3" text-anchor="middle">2</text>
<text class="t" x="419.65" y="148.5" transform="rotate(0.1 419.65 148.5)" font-size="6.3" text-anchor="middle">3</text>
<text class="t" x="432.9" y="148.5" transform="rotate(0.1 432.9 148.5)" font-size="6.3" text-anchor="middle">4</text>
<text class="t" x="446.15" y="148.5" transform="rotate(0.1 446.15 148.5)" font-size="6.3" text-anchor="middle">5</text>
<text class="t" x="459.4" y="148.5" transform="rotate(0.1 459.4 148.5)" font-size="6.3" text-anchor="middle">6</text>
<text class="t" x="472.65" y="148.5" transform="rotate(0.1 472.65 148.5)" font-size="6.3" text-anchor="middle">7</text>
<text class="t" x="485.9" y="148.5" transform="rotate(0.1 485.9 148.5)" font-size="6.3" text-anchor="middle">8</text>
<text class="t" x="499.15" y="148.5" transform="rotate(0.1 499.15 148.5)" font-size="6.3" text-anchor="middle">9</text>
<text class="t" x="512.4" y="148.5" transform="rotate(0.1 512.4 148.5)" font-size="6.3" text-anchor="middle">10</text>
<text class="t" x="525.65" y="148.5" transform="rotate(0.1 525.65 148.5)" font-size="6.3" text-anchor="middle">11</text>
<text class="t" x="538.9" y="148.5" transform="rotate(0.1 538.9 148.5)" font-size="6.3" text-anchor="middle">12</text>
<text class="t" x="382.6" y="135.2" transform="rotate(0.1 382.6 135.2)" font-size="6.3" text-anchor="end">28</text>
<text class="t" x="382.6" y="124.55" transform="rotate(0.1 382.6 124.55)" font-size="6.3" text-anchor="end">29</text>
<text class="t" x="382.6" y="113.9" transform="rotate(0.1 382.6 113.9)" font-size="6.3" text-anchor="end">30</text>
<text class="t" x="382.6" y="103.25" transform="rotate(0.1 382.6 103.25)" font-size="6.3" text-anchor="end">31</text>
<text class="t" x="382.6" y="92.6" transform="rotate(0.1 382.6 92.6)" font-size="6.3" text-anchor="end">32</text>
<text class="t" x="382.6" y="81.95" transform="rotate(0.1 382.6 81.95)" font-size="6.3" text-anchor="end">33</text>
<text class="t" x="382.6" y="71.3" transform="rotate(0.1 382.6 71.3)" font-size="6.3" text-anchor="end">34</text>
<text class="t" x="382.6" y="60.65" transform="rotate(0.1 382.6 60.65)" font-size="6.3" text-anchor="end">35</text>
<text class="t" x="382.6" y="50" transform="rotate(0.1 382.6 50)" font-size="6.3" text-anchor="end">36</text>
<text class="t" x="382.6" y="39.35" transform="rotate(0.1 382.6 39.35)" font-size="6.3" text-anchor="end">37</text>
<text class="t" x="382.6" y="28.7" transform="rotate(0.1 382.6 28.7)" font-size="6.3" text-anchor="end">38</text>
<text class="t" x="382.6" y="18.05" transform="rotate(0.1 382.6 18.05)" font-size="6.3" text-anchor="end">39</text>
<text class="a" x="466.1" y="155.3" transform="rotate(0.1 466.1 155.3)" font-size="6.6" text-anchor="middle">Horizon</text>
<text class="a" x="466.1" y="9.1" transform="rotate(0.1 466.1 9.1)" font-size="6.6" text-anchor="middle">PEMS04</text>
<text class="a" x="375" y="75.4" transform="rotate(-89.9 375 75.4)" font-size="6.6" text-anchor="middle">RMSE</text>
<path d="M26.55 166.1V294.3M39.8 166.1V294.3M53.05 166.1V294.3M66.3 166.1V294.3M79.55 166.1V294.3M92.8 166.1V294.3M106.05 166.1V294.3M119.3 166.1V294.3M132.55 166.1V294.3M145.8 166.1V294.3M159.05 166.1V294.3M172.3 166.1V294.3M20 284.4H179M20 265.3H179M20 246.2H179M20 227.1H179M20 208H179M20 188.9H179M20 169.8H179" stroke="#a8a8a8" stroke-width="0.65" stroke-dasharray="0.8 1.45" fill="none"/>
<polyline points="26.55,270.46 39.8,254.03 53.05,243.91 66.3,235.69 79.55,227.67 92.8,220.22 106.05,212.58 119.3,205.9 132.55,198.26 145.8,193.1 159.05,186.04 172.3,175.15" stroke="#22c8cc" stroke-width="1.5" fill="none" stroke-linejoin="round"/>
<rect x="25" y="268.91" width="3.1" height="3.1" fill="#22c8cc"/>
<rect x="38.25" y="252.48" width="3.1" height="3.1" fill="#22c8cc"/>
<rect x="51.5" y="242.36" width="3.1" height="3.1" fill="#22c8cc"/>
<rect x="64.75" y="234.14" width="3.1" height="3.1" fill="#22c8cc"/>
<rect x="78" y="226.12" width="3.1" height="3.1" fill="#22c8cc"/>
<rect x="91.25" y="218.67" width="3.1" height="3.1" fill="#22c8cc"/>
<rect x="104.5" y="211.03" width="3.1" height="3.1" fill="#22c8cc"/>
<rect x="117.75" y="204.35" width="3.1" height="3.1" fill="#22c8cc"/>
<rect x="131" y="196.71" width="3.1" height="3.1" fill="#22c8cc"/>
<rect x="144.25" y="191.55" width="3.1" height="3.1" fill="#22c8cc"/>
<rect x="157.5" y="184.49" width="3.1" height="3.1" fill="#22c8cc"/>
<rect x="170.75" y="173.6" width="3.1" height="3.1" fill="#22c8cc"/>
<polyline points="26.55,283.25 39.8,270.08 53.05,257.66 66.3,251.17 79.55,238.37 92.8,232.64 106.05,225.19 119.3,217.17 132.55,209.34 145.8,202.27 159.05,196.16 172.3,184.89" stroke="#f57c1e" stroke-width="1.5" fill="none" stroke-linejoin="round"/>
<circle cx="26.55" cy="283.25" r="1.75" fill="#f57c1e"/>
<circle cx="39.8" cy="270.08" r="1.75" fill="#f57c1e"/>
<circle cx="53.05" cy="257.66" r="1.75" fill="#f57c1e"/>
<circle cx="66.3" cy="251.17" r="1.75" fill="#f57c1e"/>
<circle cx="79.55" cy="238.37" r="1.75" fill="#f57c1e"/>
<circle cx="92.8" cy="232.64" r="1.75" fill="#f57c1e"/>
<circle cx="106.05" cy="225.19" r="1.75" fill="#f57c1e"/>
<circle cx="119.3" cy="217.17" r="1.75" fill="#f57c1e"/>
<circle cx="132.55" cy="209.34" r="1.75" fill="#f57c1e"/>
<circle cx="145.8" cy="202.27" r="1.75" fill="#f57c1e"/>
<circle cx="159.05" cy="196.16" r="1.75" fill="#f57c1e"/>
<circle cx="172.3" cy="184.89" r="1.75" fill="#f57c1e"/>
<polyline points="26.55,284.97 39.8,277.91 53.05,271.03 66.3,264.35 79.55,257.47 92.8,249.07 106.05,242.38 119.3,235.89 132.55,231.49 145.8,226.72 159.05,219.46 172.3,206.47" stroke="#2168d6" stroke-width="1.5" fill="none" stroke-linejoin="round"/>
<polygon points="26.55,282.77 24.46,286.29 28.64,286.29" fill="#2168d6"/>
<polygon points="39.8,275.71 37.71,279.23 41.89,279.23" fill="#2168d6"/>
<polygon points="53.05,268.83 50.96,272.35 55.14,272.35" fill="#2168d6"/>
<polygon points="66.3,262.15 64.21,265.67 68.39,265.67" fill="#2168d6"/>
<polygon points="79.55,255.27 77.46,258.79 81.64,258.79" fill="#2168d6"/>
<polygon points="92.8,246.87 90.71,250.39 94.89,250.39" fill="#2168d6"/>
<polygon points="106.05,240.18 103.96,243.7 108.14,243.7" fill="#2168d6"/>
<polygon points="119.3,233.69 117.21,237.21 121.39,237.21" fill="#2168d6"/>
<polygon points="132.55,229.29 130.46,232.81 134.64,232.81" fill="#2168d6"/>
<polygon points="145.8,224.52 143.71,228.04 147.89,228.04" fill="#2168d6"/>
<polygon points="159.05,217.26 156.96,220.78 161.14,220.78" fill="#2168d6"/>
<polygon points="172.3,204.27 170.21,207.79 174.39,207.79" fill="#2168d6"/>
<polyline points="26.55,277.91 39.8,272.56 53.05,266.83 66.3,260.72 79.55,253.65 92.8,247.35 106.05,241.43 119.3,236.65 132.55,233.02 145.8,229.01 159.05,221.94 172.3,210.67" stroke="#2fa766" stroke-width="1.5" fill="none" stroke-linejoin="round"/>
<polygon points="26.55,280.11 24.46,276.59 28.64,276.59" fill="#2fa766"/>
<polygon points="39.8,274.76 37.71,271.24 41.89,271.24" fill="#2fa766"/>
<polygon points="53.05,269.03 50.96,265.51 55.14,265.51" fill="#2fa766"/>
<polygon points="66.3,262.92 64.21,259.4 68.39,259.4" fill="#2fa766"/>
<polygon points="79.55,255.85 77.46,252.33 81.64,252.33" fill="#2fa766"/>
<polygon points="92.8,249.55 90.71,246.03 94.89,246.03" fill="#2fa766"/>
<polygon points="106.05,243.62 103.96,240.11 108.14,240.11" fill="#2fa766"/>
<polygon points="119.3,238.85 117.21,235.33 121.39,235.33" fill="#2fa766"/>
<polygon points="132.55,235.22 130.46,231.7 134.64,231.7" fill="#2fa766"/>
<polygon points="145.8,231.21 143.71,227.69 147.89,227.69" fill="#2fa766"/>
<polygon points="159.05,224.14 156.96,220.62 161.14,220.62" fill="#2fa766"/>
<polygon points="172.3,212.87 170.21,209.35 174.39,209.35" fill="#2fa766"/>
<polyline points="26.55,286.88 39.8,277.52 53.05,270.27 66.3,264.35 79.55,258.04 92.8,250.59 106.05,243.34 119.3,239.13 132.55,235.89 145.8,233.02 159.05,226.15 172.3,214.69" stroke="#a66dd8" stroke-width="1.5" fill="none" stroke-linejoin="round"/>
<polygon points="26.55,284.88 28.55,286.88 26.55,288.88 24.55,286.88" fill="#a66dd8"/>
<polygon points="39.8,275.52 41.8,277.52 39.8,279.52 37.8,277.52" fill="#a66dd8"/>
<polygon points="53.05,268.27 55.05,270.27 53.05,272.27 51.05,270.27" fill="#a66dd8"/>
<polygon points="66.3,262.35 68.3,264.35 66.3,266.35 64.3,264.35" fill="#a66dd8"/>
<polygon points="79.55,256.04 81.55,258.04 79.55,260.04 77.55,258.04" fill="#a66dd8"/>
<polygon points="92.8,248.59 94.8,250.59 92.8,252.59 90.8,250.59" fill="#a66dd8"/>
<polygon points="106.05,241.34 108.05,243.34 106.05,245.34 104.05,243.34" fill="#a66dd8"/>
<polygon points="119.3,237.13 121.3,239.13 119.3,241.13 117.3,239.13" fill="#a66dd8"/>
<polygon points="132.55,233.89 134.55,235.89 132.55,237.89 130.55,235.89" fill="#a66dd8"/>
<polygon points="145.8,231.02 147.8,233.02 145.8,235.02 143.8,233.02" fill="#a66dd8"/>
<polygon points="159.05,224.15 161.05,226.15 159.05,228.15 157.05,226.15" fill="#a66dd8"/>
<polygon points="172.3,212.69 174.3,214.69 172.3,216.69 170.3,214.69" fill="#a66dd8"/>
<polyline points="26.55,288.98 39.8,282.87 53.05,276.38 66.3,271.41 79.55,265.87 92.8,262.05 106.05,256.32 119.3,253.08 132.55,248.68 145.8,245.44 159.05,240.09 172.3,233.98" stroke="#fb2430" stroke-width="1.5" fill="none" stroke-linejoin="round"/>
<polygon points="28.75,288.98 25.23,286.89 25.23,291.07" fill="#fb2430"/>
<polygon points="42,282.87 38.48,280.78 38.48,284.96" fill="#fb2430"/>
<polygon points="55.25,276.38 51.73,274.29 51.73,278.47" fill="#fb2430"/>
<polygon points="68.5,271.41 64.98,269.32 64.98,273.5" fill="#fb2430"/>
<polygon points="81.75,265.87 78.23,263.78 78.23,267.96" fill="#fb2430"/>
<polygon points="95,262.05 91.48,259.96 91.48,264.14" fill="#fb2430"/>
<polygon points="108.25,256.32 104.73,254.23 104.73,258.41" fill="#fb2430"/>
<polygon points="121.5,253.08 117.98,250.99 117.98,255.17" fill="#fb2430"/>
<polygon points="134.75,248.68 131.23,246.59 131.23,250.77" fill="#fb2430"/>
<polygon points="148,245.44 144.48,243.35 144.48,247.53" fill="#fb2430"/>
<polygon points="161.25,240.09 157.73,238 157.73,242.18" fill="#fb2430"/>
<polygon points="174.5,233.98 170.98,231.89 170.98,236.07" fill="#fb2430"/>
<rect x="21.7" y="166.9" width="58.6" height="45.8" fill="#fff" stroke="#b0b0b0" stroke-width="0.8"/>
<line x1="22.3" y1="170.7" x2="36.7" y2="170.7" stroke="#22c8cc" stroke-width="1.5"/>
<rect x="27.73" y="169.03" width="3.35" height="3.35" fill="#22c8cc"/>
<text class="l" x="38.1" y="172.8" transform="rotate(0.1 38.1 172.8)" font-size="6.1">STSGCN</text>
<line x1="22.3" y1="178.38" x2="36.7" y2="178.38" stroke="#f57c1e" stroke-width="1.5"/>
<circle cx="29.4" cy="178.38" r="1.89" fill="#f57c1e"/>
<text class="l" x="38.1" y="180.48" transform="rotate(0.1 38.1 180.48)" font-size="6.1">STFGNN</text>
<line x1="22.3" y1="186.06" x2="36.7" y2="186.06" stroke="#2168d6" stroke-width="1.5"/>
<polygon points="29.4,183.68 27.14,187.49 31.66,187.49" fill="#2168d6"/>
<text class="l" x="38.1" y="188.16" transform="rotate(0.1 38.1 188.16)" font-size="6.1">AGCRN</text>
<line x1="22.3" y1="193.74" x2="36.7" y2="193.74" stroke="#2fa766" stroke-width="1.5"/>
<polygon points="29.4,196.12 27.14,192.31 31.66,192.31" fill="#2fa766"/>
<text class="l" x="38.1" y="195.84" transform="rotate(0.1 38.1 195.84)" font-size="6.1">Z-GCNETs</text>
<line x1="22.3" y1="201.42" x2="36.7" y2="201.42" stroke="#a66dd8" stroke-width="1.5"/>
<polygon points="29.4,199.26 31.56,201.42 29.4,203.58 27.24,201.42" fill="#a66dd8"/>
<text class="l" x="38.1" y="203.52" transform="rotate(0.1 38.1 203.52)" font-size="6.1">DSTAGNN</text>
<line x1="22.3" y1="209.1" x2="36.7" y2="209.1" stroke="#fb2430" stroke-width="1.5"/>
<polygon points="31.78,209.1 27.97,206.84 27.97,211.36" fill="#fb2430"/>
<text class="l" x="38.1" y="211.2" transform="rotate(0.1 38.1 211.2)" font-size="6.1">WOA-AGCRTN</text>
<rect x="20" y="166.1" width="159" height="128.2" fill="none" stroke="#525252" stroke-width="1.3"/>
<path d="M26.55 294.3v2.8M39.8 294.3v2.8M53.05 294.3v2.8M66.3 294.3v2.8M79.55 294.3v2.8M92.8 294.3v2.8M106.05 294.3v2.8M119.3 294.3v2.8M132.55 294.3v2.8M145.8 294.3v2.8M159.05 294.3v2.8M172.3 294.3v2.8M20 284.4h-2.8M20 265.3h-2.8M20 246.2h-2.8M20 227.1h-2.8M20 208h-2.8M20 188.9h-2.8M20 169.8h-2.8" stroke="#333" stroke-width="0.8" fill="none"/>
<text class="t" x="26.55" y="303.3" transform="rotate(0.1 26.55 303.3)" font-size="6.3" text-anchor="middle">1</text>
<text class="t" x="39.8" y="303.3" transform="rotate(0.1 39.8 303.3)" font-size="6.3" text-anchor="middle">2</text>
<text class="t" x="53.05" y="303.3" transform="rotate(0.1 53.05 303.3)" font-size="6.3" text-anchor="middle">3</text>
<text class="t" x="66.3" y="303.3" transform="rotate(0.1 66.3 303.3)" font-size="6.3" text-anchor="middle">4</text>
<text class="t" x="79.55" y="303.3" transform="rotate(0.1 79.55 303.3)" font-size="6.3" text-anchor="middle">5</text>
<text class="t" x="92.8" y="303.3" transform="rotate(0.1 92.8 303.3)" font-size="6.3" text-anchor="middle">6</text>
<text class="t" x="106.05" y="303.3" transform="rotate(0.1 106.05 303.3)" font-size="6.3" text-anchor="middle">7</text>
<text class="t" x="119.3" y="303.3" transform="rotate(0.1 119.3 303.3)" font-size="6.3" text-anchor="middle">8</text>
<text class="t" x="132.55" y="303.3" transform="rotate(0.1 132.55 303.3)" font-size="6.3" text-anchor="middle">9</text>
<text class="t" x="145.8" y="303.3" transform="rotate(0.1 145.8 303.3)" font-size="6.3" text-anchor="middle">10</text>
<text class="t" x="159.05" y="303.3" transform="rotate(0.1 159.05 303.3)" font-size="6.3" text-anchor="middle">11</text>
<text class="t" x="172.3" y="303.3" transform="rotate(0.1 172.3 303.3)" font-size="6.3" text-anchor="middle">12</text>
<text class="t" x="16" y="286.6" transform="rotate(0.1 16 286.6)" font-size="6.3" text-anchor="end">14</text>
<text class="t" x="16" y="267.5" transform="rotate(0.1 16 267.5)" font-size="6.3" text-anchor="end">15</text>
<text class="t" x="16" y="248.4" transform="rotate(0.1 16 248.4)" font-size="6.3" text-anchor="end">16</text>
<text class="t" x="16" y="229.3" transform="rotate(0.1 16 229.3)" font-size="6.3" text-anchor="end">17</text>
<text class="t" x="16" y="210.2" transform="rotate(0.1 16 210.2)" font-size="6.3" text-anchor="end">18</text>
<text class="t" x="16" y="191.1" transform="rotate(0.1 16 191.1)" font-size="6.3" text-anchor="end">19</text>
<text class="t" x="16" y="172" transform="rotate(0.1 16 172)" font-size="6.3" text-anchor="end">20</text>
<text class="a" x="99.5" y="310.1" transform="rotate(0.1 99.5 310.1)" font-size="6.6" text-anchor="middle">Horizon</text>
<text class="a" x="99.5" y="163.9" transform="rotate(0.1 99.5 163.9)" font-size="6.6" text-anchor="middle">PEMS08</text>
<text class="a" x="7.8" y="230.2" transform="rotate(-89.9 7.8 230.2)" font-size="6.6" text-anchor="middle">MAE</text>
<path d="M209.95 166.1V294.3M223.2 166.1V294.3M236.45 166.1V294.3M249.7 166.1V294.3M262.95 166.1V294.3M276.2 166.1V294.3M289.45 166.1V294.3M302.7 166.1V294.3M315.95 166.1V294.3M329.2 166.1V294.3M342.45 166.1V294.3M355.7 166.1V294.3M203.4 275.3H362.4M203.4 248.1H362.4M203.4 220.9H362.4M203.4 193.7H362.4M203.4 166.5H362.4" stroke="#a8a8a8" stroke-width="0.65" stroke-dasharray="0.8 1.45" fill="none"/>
<polyline points="209.95,253.27 223.2,235.32 236.45,230.96 249.7,225.8 262.95,216.55 276.2,213.28 289.45,209.48 302.7,202.68 315.95,195.6 329.2,185.81 342.45,183.09 355.7,175.2" stroke="#22c8cc" stroke-width="1.5" fill="none" stroke-linejoin="round"/>
<rect x="208.4" y="251.72" width="3.1" height="3.1" fill="#22c8cc"/>
<rect x="221.65" y="233.77" width="3.1" height="3.1" fill="#22c8cc"/>
<rect x="234.9" y="229.41" width="3.1" height="3.1" fill="#22c8cc"/>
<rect x="248.15" y="224.25" width="3.1" height="3.1" fill="#22c8cc"/>
<rect x="261.4" y="215" width="3.1" height="3.1" fill="#22c8cc"/>
<rect x="274.65" y="211.73" width="3.1" height="3.1" fill="#22c8cc"/>
<rect x="287.9" y="207.93" width="3.1" height="3.1" fill="#22c8cc"/>
<rect x="301.15" y="201.13" width="3.1" height="3.1" fill="#22c8cc"/>
<rect x="314.4" y="194.05" width="3.1" height="3.1" fill="#22c8cc"/>
<rect x="327.65" y="184.26" width="3.1" height="3.1" fill="#22c8cc"/>
<rect x="340.9" y="181.54" width="3.1" height="3.1" fill="#22c8cc"/>
<rect x="354.15" y="173.65" width="3.1" height="3.1" fill="#22c8cc"/>
<polyline points="209.95,266.87 223.2,259.8 236.45,251.91 249.7,243.48 262.95,239.4 276.2,232.6 289.45,226.88 302.7,219.27 315.95,209.48 329.2,205.4 342.45,201.86 355.7,192.61" stroke="#f57c1e" stroke-width="1.5" fill="none" stroke-linejoin="round"/>
<circle cx="209.95" cy="266.87" r="1.75" fill="#f57c1e"/>
<circle cx="223.2" cy="259.8" r="1.75" fill="#f57c1e"/>
<circle cx="236.45" cy="251.91" r="1.75" fill="#f57c1e"/>
<circle cx="249.7" cy="243.48" r="1.75" fill="#f57c1e"/>
<circle cx="262.95" cy="239.4" r="1.75" fill="#f57c1e"/>
<circle cx="276.2" cy="232.6" r="1.75" fill="#f57c1e"/>
<circle cx="289.45" cy="226.88" r="1.75" fill="#f57c1e"/>
<circle cx="302.7" cy="219.27" r="1.75" fill="#f57c1e"/>
<circle cx="315.95" cy="209.48" r="1.75" fill="#f57c1e"/>
<circle cx="329.2" cy="205.4" r="1.75" fill="#f57c1e"/>
<circle cx="342.45" cy="201.86" r="1.75" fill="#f57c1e"/>
<circle cx="355.7" cy="192.61" r="1.75" fill="#f57c1e"/>
<polyline points="209.95,273.67 223.2,268.5 236.45,263.33 249.7,257.89 262.95,250.82 276.2,247.56 289.45,242.12 302.7,235.59 315.95,232.05 329.2,227.7 342.45,219.81 355.7,209.48" stroke="#2168d6" stroke-width="1.5" fill="none" stroke-linejoin="round"/>
<polygon points="209.95,271.47 207.86,274.99 212.04,274.99" fill="#2168d6"/>
<polygon points="223.2,266.3 221.11,269.82 225.29,269.82" fill="#2168d6"/>
<polygon points="236.45,261.13 234.36,264.65 238.54,264.65" fill="#2168d6"/>
<polygon points="249.7,255.69 247.61,259.21 251.79,259.21" fill="#2168d6"/>
<polygon points="262.95,248.62 260.86,252.14 265.04,252.14" fill="#2168d6"/>
<polygon points="276.2,245.36 274.11,248.88 278.29,248.88" fill="#2168d6"/>
<polygon points="289.45,239.92 287.36,243.44 291.54,243.44" fill="#2168d6"/>
<polygon points="302.7,233.39 300.61,236.91 304.79,236.91" fill="#2168d6"/>
<polygon points="315.95,229.85 313.86,233.37 318.04,233.37" fill="#2168d6"/>
<polygon points="329.2,225.5 327.11,229.02 331.29,229.02" fill="#2168d6"/>
<polygon points="342.45,217.61 340.36,221.13 344.54,221.13" fill="#2168d6"/>
<polygon points="355.7,207.28 353.61,210.8 357.79,210.8" fill="#2168d6"/>
<polyline points="209.95,264.42 223.2,258.71 236.45,252.45 249.7,248.1 262.95,243.48 276.2,239.12 289.45,234.5 302.7,230.42 315.95,226.88 329.2,223.35 342.45,218.18 355.7,207.84" stroke="#2fa766" stroke-width="1.5" fill="none" stroke-linejoin="round"/>
<polygon points="209.95,266.62 207.86,263.1 212.04,263.1" fill="#2fa766"/>
<polygon points="223.2,260.91 221.11,257.39 225.29,257.39" fill="#2fa766"/>
<polygon points="236.45,254.65 234.36,251.13 238.54,251.13" fill="#2fa766"/>
<polygon points="249.7,250.3 247.61,246.78 251.79,246.78" fill="#2fa766"/>
<polygon points="262.95,245.68 260.86,242.16 265.04,242.16" fill="#2fa766"/>
<polygon points="276.2,241.32 274.11,237.8 278.29,237.8" fill="#2fa766"/>
<polygon points="289.45,236.7 287.36,233.18 291.54,233.18" fill="#2fa766"/>
<polygon points="302.7,232.62 300.61,229.1 304.79,229.1" fill="#2fa766"/>
<polygon points="315.95,229.08 313.86,225.56 318.04,225.56" fill="#2fa766"/>
<polygon points="329.2,225.55 327.11,222.03 331.29,222.03" fill="#2fa766"/>
<polygon points="342.45,220.38 340.36,216.86 344.54,216.86" fill="#2fa766"/>
<polygon points="355.7,210.04 353.61,206.52 357.79,206.52" fill="#2fa766"/>
<polyline points="209.95,281.83 223.2,273.67 236.45,267.41 249.7,261.7 262.95,256.53 276.2,252.45 289.45,245.65 302.7,242.12 315.95,238.58 329.2,235.59 342.45,226.88 355.7,217.64" stroke="#a66dd8" stroke-width="1.5" fill="none" stroke-linejoin="round"/>
<polygon points="209.95,279.83 211.95,281.83 209.95,283.83 207.95,281.83" fill="#a66dd8"/>
<polygon points="223.2,271.67 225.2,273.67 223.2,275.67 221.2,273.67" fill="#a66dd8"/>
<polygon points="236.45,265.41 238.45,267.41 236.45,269.41 234.45,267.41" fill="#a66dd8"/>
<polygon points="249.7,259.7 251.7,261.7 249.7,263.7 247.7,261.7" fill="#a66dd8"/>
<polygon points="262.95,254.53 264.95,256.53 262.95,258.53 260.95,256.53" fill="#a66dd8"/>
<polygon points="276.2,250.45 278.2,252.45 276.2,254.45 274.2,252.45" fill="#a66dd8"/>
<polygon points="289.45,243.65 291.45,245.65 289.45,247.65 287.45,245.65" fill="#a66dd8"/>
<polygon points="302.7,240.12 304.7,242.12 302.7,244.12 300.7,242.12" fill="#a66dd8"/>
<polygon points="315.95,236.58 317.95,238.58 315.95,240.58 313.95,238.58" fill="#a66dd8"/>
<polygon points="329.2,233.59 331.2,235.59 329.2,237.59 327.2,235.59" fill="#a66dd8"/>
<polygon points="342.45,224.88 344.45,226.88 342.45,228.88 340.45,226.88" fill="#a66dd8"/>
<polygon points="355.7,215.64 357.7,217.64 355.7,219.64 353.7,217.64" fill="#a66dd8"/>
<polyline points="209.95,278.02 223.2,271.49 236.45,267.96 249.7,258.98 262.95,251.36 276.2,250.82 289.45,244.56 302.7,242.39 315.95,238.31 329.2,235.59 342.45,226.34 355.7,219.81" stroke="#fb2430" stroke-width="1.5" fill="none" stroke-linejoin="round"/>
<polygon points="212.15,278.02 208.63,275.93 208.63,280.11" fill="#fb2430"/>
<polygon points="225.4,271.49 221.88,269.4 221.88,273.58" fill="#fb2430"/>
<polygon points="238.65,267.96 235.13,265.87 235.13,270.05" fill="#fb2430"/>
<polygon points="251.9,258.98 248.38,256.89 248.38,261.07" fill="#fb2430"/>
<polygon points="265.15,251.36 261.63,249.27 261.63,253.45" fill="#fb2430"/>
<polygon points="278.4,250.82 274.88,248.73 274.88,252.91" fill="#fb2430"/>
<polygon points="291.65,244.56 288.13,242.47 288.13,246.65" fill="#fb2430"/>
<polygon points="304.9,242.39 301.38,240.3 301.38,244.48" fill="#fb2430"/>
<polygon points="318.15,238.31 314.63,236.22 314.63,240.4" fill="#fb2430"/>
<polygon points="331.4,235.59 327.88,233.5 327.88,237.68" fill="#fb2430"/>
<polygon points="344.65,226.34 341.13,224.25 341.13,228.43" fill="#fb2430"/>
<polygon points="357.9,219.81 354.38,217.72 354.38,221.9" fill="#fb2430"/>
<rect x="205.4" y="166.9" width="58.4" height="46" fill="#fff" stroke="#b0b0b0" stroke-width="0.8"/>
<line x1="206" y1="170.9" x2="220.4" y2="170.9" stroke="#22c8cc" stroke-width="1.5"/>
<rect x="211.43" y="169.23" width="3.35" height="3.35" fill="#22c8cc"/>
<text class="l" x="221.8" y="173" transform="rotate(0.1 221.8 173)" font-size="6.1">STSGCN</text>
<line x1="206" y1="178.58" x2="220.4" y2="178.58" stroke="#f57c1e" stroke-width="1.5"/>
<circle cx="213.1" cy="178.58" r="1.89" fill="#f57c1e"/>
<text class="l" x="221.8" y="180.68" transform="rotate(0.1 221.8 180.68)" font-size="6.1">STFGNN</text>
<line x1="206" y1="186.26" x2="220.4" y2="186.26" stroke="#2168d6" stroke-width="1.5"/>
<polygon points="213.1,183.88 210.84,187.69 215.36,187.69" fill="#2168d6"/>
<text class="l" x="221.8" y="188.36" transform="rotate(0.1 221.8 188.36)" font-size="6.1">AGCRN</text>
<line x1="206" y1="193.94" x2="220.4" y2="193.94" stroke="#2fa766" stroke-width="1.5"/>
<polygon points="213.1,196.32 210.84,192.51 215.36,192.51" fill="#2fa766"/>
<text class="l" x="221.8" y="196.04" transform="rotate(0.1 221.8 196.04)" font-size="6.1">Z-GCNETs</text>
<line x1="206" y1="201.62" x2="220.4" y2="201.62" stroke="#a66dd8" stroke-width="1.5"/>
<polygon points="213.1,199.46 215.26,201.62 213.1,203.78 210.94,201.62" fill="#a66dd8"/>
<text class="l" x="221.8" y="203.72" transform="rotate(0.1 221.8 203.72)" font-size="6.1">DSTAGNN</text>
<line x1="206" y1="209.3" x2="220.4" y2="209.3" stroke="#fb2430" stroke-width="1.5"/>
<polygon points="215.48,209.3 211.67,207.04 211.67,211.56" fill="#fb2430"/>
<text class="l" x="221.8" y="211.4" transform="rotate(0.1 221.8 211.4)" font-size="6.1">WOA-AGCRTN</text>
<rect x="203.4" y="166.1" width="159" height="128.2" fill="none" stroke="#525252" stroke-width="1.3"/>
<path d="M209.95 294.3v2.8M223.2 294.3v2.8M236.45 294.3v2.8M249.7 294.3v2.8M262.95 294.3v2.8M276.2 294.3v2.8M289.45 294.3v2.8M302.7 294.3v2.8M315.95 294.3v2.8M329.2 294.3v2.8M342.45 294.3v2.8M355.7 294.3v2.8M203.4 275.3h-2.8M203.4 248.1h-2.8M203.4 220.9h-2.8M203.4 193.7h-2.8M203.4 166.5h-2.8" stroke="#333" stroke-width="0.8" fill="none"/>
<text class="t" x="209.95" y="303.3" transform="rotate(0.1 209.95 303.3)" font-size="6.3" text-anchor="middle">1</text>
<text class="t" x="223.2" y="303.3" transform="rotate(0.1 223.2 303.3)" font-size="6.3" text-anchor="middle">2</text>
<text class="t" x="236.45" y="303.3" transform="rotate(0.1 236.45 303.3)" font-size="6.3" text-anchor="middle">3</text>
<text class="t" x="249.7" y="303.3" transform="rotate(0.1 249.7 303.3)" font-size="6.3" text-anchor="middle">4</text>
<text class="t" x="262.95" y="303.3" transform="rotate(0.1 262.95 303.3)" font-size="6.3" text-anchor="middle">5</text>
<text class="t" x="276.2" y="303.3" transform="rotate(0.1 276.2 303.3)" font-size="6.3" text-anchor="middle">6</text>
<text class="t" x="289.45" y="303.3" transform="rotate(0.1 289.45 303.3)" font-size="6.3" text-anchor="middle">7</text>
<text class="t" x="302.7" y="303.3" transform="rotate(0.1 302.7 303.3)" font-size="6.3" text-anchor="middle">8</text>
<text class="t" x="315.95" y="303.3" transform="rotate(0.1 315.95 303.3)" font-size="6.3" text-anchor="middle">9</text>
<text class="t" x="329.2" y="303.3" transform="rotate(0.1 329.2 303.3)" font-size="6.3" text-anchor="middle">10</text>
<text class="t" x="342.45" y="303.3" transform="rotate(0.1 342.45 303.3)" font-size="6.3" text-anchor="middle">11</text>
<text class="t" x="355.7" y="303.3" transform="rotate(0.1 355.7 303.3)" font-size="6.3" text-anchor="middle">12</text>
<text class="t" x="199.4" y="277.5" transform="rotate(0.1 199.4 277.5)" font-size="6.3" text-anchor="end">9</text>
<text class="t" x="199.4" y="250.3" transform="rotate(0.1 199.4 250.3)" font-size="6.3" text-anchor="end">10</text>
<text class="t" x="199.4" y="223.1" transform="rotate(0.1 199.4 223.1)" font-size="6.3" text-anchor="end">11</text>
<text class="t" x="199.4" y="195.9" transform="rotate(0.1 199.4 195.9)" font-size="6.3" text-anchor="end">12</text>
<text class="t" x="199.4" y="168.7" transform="rotate(0.1 199.4 168.7)" font-size="6.3" text-anchor="end">13</text>
<text class="a" x="282.9" y="310.1" transform="rotate(0.1 282.9 310.1)" font-size="6.6" text-anchor="middle">Horizon</text>
<text class="a" x="282.9" y="163.9" transform="rotate(0.1 282.9 163.9)" font-size="6.6" text-anchor="middle">PEMS08</text>
<text class="a" x="191.9" y="230.2" transform="rotate(-89.9 191.9 230.2)" font-size="6.6" text-anchor="middle">MAPE(%)</text>
<path d="M393.15 166.1V294.3M406.4 166.1V294.3M419.65 166.1V294.3M432.9 166.1V294.3M446.15 166.1V294.3M459.4 166.1V294.3M472.65 166.1V294.3M485.9 166.1V294.3M499.15 166.1V294.3M512.4 166.1V294.3M525.65 166.1V294.3M538.9 166.1V294.3M386.6 292.1H545.6M386.6 280.85H545.6M386.6 269.6H545.6M386.6 258.35H545.6M386.6 247.1H545.6M386.6 235.85H545.6M386.6 224.6H545.6M386.6 213.35H545.6M386.6 202.1H545.6M386.6 190.85H545.6M386.6 179.6H545.6M386.6 168.35H545.6" stroke="#a8a8a8" stroke-width="0.65" stroke-dasharray="0.8 1.45" fill="none"/>
<polyline points="393.15,263.3 406.4,248.56 419.65,236.19 432.9,228.76 446.15,220.1 459.4,212.56 472.65,206.94 485.9,200.75 499.15,191.64 512.4,189.05 525.65,180.73 538.9,173.19" stroke="#22c8cc" stroke-width="1.5" fill="none" stroke-linejoin="round"/>
<rect x="391.6" y="261.75" width="3.1" height="3.1" fill="#22c8cc"/>
<rect x="404.85" y="247.01" width="3.1" height="3.1" fill="#22c8cc"/>
<rect x="418.1" y="234.64" width="3.1" height="3.1" fill="#22c8cc"/>
<rect x="431.35" y="227.21" width="3.1" height="3.1" fill="#22c8cc"/>
<rect x="444.6" y="218.55" width="3.1" height="3.1" fill="#22c8cc"/>
<rect x="457.85" y="211.01" width="3.1" height="3.1" fill="#22c8cc"/>
<rect x="471.1" y="205.39" width="3.1" height="3.1" fill="#22c8cc"/>
<rect x="484.35" y="199.2" width="3.1" height="3.1" fill="#22c8cc"/>
<rect x="497.6" y="190.09" width="3.1" height="3.1" fill="#22c8cc"/>
<rect x="510.85" y="187.5" width="3.1" height="3.1" fill="#22c8cc"/>
<rect x="524.1" y="179.18" width="3.1" height="3.1" fill="#22c8cc"/>
<rect x="537.35" y="171.64" width="3.1" height="3.1" fill="#22c8cc"/>
<polyline points="393.15,272.64 406.4,258.01 419.65,246.65 432.9,235.96 446.15,228.43 459.4,222.13 472.65,213.01 485.9,206.94 499.15,200.41 512.4,190.96 525.65,187.48 538.9,178.7" stroke="#f57c1e" stroke-width="1.5" fill="none" stroke-linejoin="round"/>
<circle cx="393.15" cy="272.64" r="1.75" fill="#f57c1e"/>
<circle cx="406.4" cy="258.01" r="1.75" fill="#f57c1e"/>
<circle cx="419.65" cy="246.65" r="1.75" fill="#f57c1e"/>
<circle cx="432.9" cy="235.96" r="1.75" fill="#f57c1e"/>
<circle cx="446.15" cy="228.43" r="1.75" fill="#f57c1e"/>
<circle cx="459.4" cy="222.13" r="1.75" fill="#f57c1e"/>
<circle cx="472.65" cy="213.01" r="1.75" fill="#f57c1e"/>
<circle cx="485.9" cy="206.94" r="1.75" fill="#f57c1e"/>
<circle cx="499.15" cy="200.41" r="1.75" fill="#f57c1e"/>
<circle cx="512.4" cy="190.96" r="1.75" fill="#f57c1e"/>
<circle cx="525.65" cy="187.48" r="1.75" fill="#f57c1e"/>
<circle cx="538.9" cy="178.7" r="1.75" fill="#f57c1e"/>
<polyline points="393.15,272.98 406.4,264.54 419.65,255.88 432.9,247.33 446.15,240.24 459.4,234.16 472.65,228.09 485.9,222.35 499.15,217.85 512.4,213.35 525.65,206.49 538.9,197.15" stroke="#2168d6" stroke-width="1.5" fill="none" stroke-linejoin="round"/>
<polygon points="393.15,270.78 391.06,274.3 395.24,274.3" fill="#2168d6"/>
<polygon points="406.4,262.34 404.31,265.86 408.49,265.86" fill="#2168d6"/>
<polygon points="419.65,253.68 417.56,257.2 421.74,257.2" fill="#2168d6"/>
<polygon points="432.9,245.13 430.81,248.65 434.99,248.65" fill="#2168d6"/>
<polygon points="446.15,238.04 444.06,241.56 448.24,241.56" fill="#2168d6"/>
<polygon points="459.4,231.96 457.31,235.48 461.49,235.48" fill="#2168d6"/>
<polygon points="472.65,225.89 470.56,229.41 474.74,229.41" fill="#2168d6"/>
<polygon points="485.9,220.15 483.81,223.67 487.99,223.67" fill="#2168d6"/>
<polygon points="499.15,215.65 497.06,219.17 501.24,219.17" fill="#2168d6"/>
<polygon points="512.4,211.15 510.31,214.67 514.49,214.67" fill="#2168d6"/>
<polygon points="525.65,204.29 523.56,207.81 527.74,207.81" fill="#2168d6"/>
<polygon points="538.9,194.95 536.81,198.47 540.99,198.47" fill="#2168d6"/>
<polyline points="393.15,266.56 406.4,259.81 419.65,253.62 432.9,247.21 446.15,240.24 459.4,236.08 472.65,228.99 485.9,223.25 499.15,219.09 512.4,215.94 525.65,210.43 538.9,201.2" stroke="#2fa766" stroke-width="1.5" fill="none" stroke-linejoin="round"/>
<polygon points="393.15,268.76 391.06,265.24 395.24,265.24" fill="#2fa766"/>
<polygon points="406.4,262.01 404.31,258.49 408.49,258.49" fill="#2fa766"/>
<polygon points="419.65,255.82 417.56,252.31 421.74,252.31" fill="#2fa766"/>
<polygon points="432.9,249.41 430.81,245.89 434.99,245.89" fill="#2fa766"/>
<polygon points="446.15,242.44 444.06,238.92 448.24,238.92" fill="#2fa766"/>
<polygon points="459.4,238.28 457.31,234.76 461.49,234.76" fill="#2fa766"/>
<polygon points="472.65,231.19 470.56,227.67 474.74,227.67" fill="#2fa766"/>
<polygon points="485.9,225.45 483.81,221.93 487.99,221.93" fill="#2fa766"/>
<polygon points="499.15,221.29 497.06,217.77 501.24,217.77" fill="#2fa766"/>
<polygon points="512.4,218.14 510.31,214.62 514.49,214.62" fill="#2fa766"/>
<polygon points="525.65,212.62 523.56,209.11 527.74,209.11" fill="#2fa766"/>
<polygon points="538.9,203.4 536.81,199.88 540.99,199.88" fill="#2fa766"/>
<polyline points="393.15,273.54 406.4,264.31 419.65,256.1 432.9,248.34 446.15,241.81 459.4,234.73 472.65,228.09 485.9,224.26 499.15,220.33 512.4,217.51 525.65,212.56 538.9,203.23" stroke="#a66dd8" stroke-width="1.5" fill="none" stroke-linejoin="round"/>
<polygon points="393.15,271.54 395.15,273.54 393.15,275.54 391.15,273.54" fill="#a66dd8"/>
<polygon points="406.4,262.31 408.4,264.31 406.4,266.31 404.4,264.31" fill="#a66dd8"/>
<polygon points="419.65,254.1 421.65,256.1 419.65,258.1 417.65,256.1" fill="#a66dd8"/>
<polygon points="432.9,246.34 434.9,248.34 432.9,250.34 430.9,248.34" fill="#a66dd8"/>
<polygon points="446.15,239.81 448.15,241.81 446.15,243.81 444.15,241.81" fill="#a66dd8"/>
<polygon points="459.4,232.73 461.4,234.73 459.4,236.73 457.4,234.73" fill="#a66dd8"/>
<polygon points="472.65,226.09 474.65,228.09 472.65,230.09 470.65,228.09" fill="#a66dd8"/>
<polygon points="485.9,222.26 487.9,224.26 485.9,226.26 483.9,224.26" fill="#a66dd8"/>
<polygon points="499.15,218.33 501.15,220.33 499.15,222.33 497.15,220.33" fill="#a66dd8"/>
<polygon points="512.4,215.51 514.4,217.51 512.4,219.51 510.4,217.51" fill="#a66dd8"/>
<polygon points="525.65,210.56 527.65,212.56 525.65,214.56 523.65,212.56" fill="#a66dd8"/>
<polygon points="538.9,201.23 540.9,203.23 538.9,205.23 536.9,203.23" fill="#a66dd8"/>
<polyline points="393.15,275.79 406.4,267.8 419.65,260.82 432.9,253.96 446.15,246.76 459.4,241.36 472.65,234.73 485.9,229.44 499.15,225.05 512.4,220.89 525.65,216.16 538.9,210.99" stroke="#fb2430" stroke-width="1.5" fill="none" stroke-linejoin="round"/>
<polygon points="395.35,275.79 391.83,273.7 391.83,277.88" fill="#fb2430"/>
<polygon points="408.6,267.8 405.08,265.71 405.08,269.89" fill="#fb2430"/>
<polygon points="421.85,260.82 418.33,258.74 418.33,262.91" fill="#fb2430"/>
<polygon points="435.1,253.96 431.58,251.87 431.58,256.05" fill="#fb2430"/>
<polygon points="448.35,246.76 444.83,244.67 444.83,248.85" fill="#fb2430"/>
<polygon points="461.6,241.36 458.08,239.27 458.08,243.45" fill="#fb2430"/>
<polygon points="474.85,234.73 471.33,232.64 471.33,236.82" fill="#fb2430"/>
<polygon points="488.1,229.44 484.58,227.35 484.58,231.53" fill="#fb2430"/>
<polygon points="501.35,225.05 497.83,222.96 497.83,227.14" fill="#fb2430"/>
<polygon points="514.6,220.89 511.08,218.8 511.08,222.98" fill="#fb2430"/>
<polygon points="527.85,216.16 524.33,214.07 524.33,218.25" fill="#fb2430"/>
<polygon points="541.1,210.99 537.58,208.9 537.58,213.08" fill="#fb2430"/>
<rect x="388.7" y="166.9" width="58.7" height="46.1" fill="#fff" stroke="#b0b0b0" stroke-width="0.8"/>
<line x1="389.3" y1="170.7" x2="403.7" y2="170.7" stroke="#22c8cc" stroke-width="1.5"/>
<rect x="394.73" y="169.03" width="3.35" height="3.35" fill="#22c8cc"/>
<text class="l" x="405.1" y="172.8" transform="rotate(0.1 405.1 172.8)" font-size="6.1">STSGCN</text>
<line x1="389.3" y1="178.35" x2="403.7" y2="178.35" stroke="#f57c1e" stroke-width="1.5"/>
<circle cx="396.4" cy="178.35" r="1.89" fill="#f57c1e"/>
<text class="l" x="405.1" y="180.45" transform="rotate(0.1 405.1 180.45)" font-size="6.1">STFGNN</text>
<line x1="389.3" y1="186" x2="403.7" y2="186" stroke="#2168d6" stroke-width="1.5"/>
<polygon points="396.4,183.62 394.14,187.43 398.66,187.43" fill="#2168d6"/>
<text class="l" x="405.1" y="188.1" transform="rotate(0.1 405.1 188.1)" font-size="6.1">AGCRN</text>
<line x1="389.3" y1="193.65" x2="403.7" y2="193.65" stroke="#2fa766" stroke-width="1.5"/>
<polygon points="396.4,196.03 394.14,192.22 398.66,192.22" fill="#2fa766"/>
<text class="l" x="405.1" y="195.75" transform="rotate(0.1 405.1 195.75)" font-size="6.1">Z-GCNETs</text>
<line x1="389.3" y1="201.3" x2="403.7" y2="201.3" stroke="#a66dd8" stroke-width="1.5"/>
<polygon points="396.4,199.14 398.56,201.3 396.4,203.46 394.24,201.3" fill="#a66dd8"/>
<text class="l" x="405.1" y="203.4" transform="rotate(0.1 405.1 203.4)" font-size="6.1">DSTAGNN</text>
<line x1="389.3" y1="208.95" x2="403.7" y2="208.95" stroke="#fb2430" stroke-width="1.5"/>
<polygon points="398.78,208.95 394.97,206.69 394.97,211.21" fill="#fb2430"/>
<text class="l" x="405.1" y="211.05" transform="rotate(0.1 405.1 211.05)" font-size="6.1">WOA-AGCRTN</text>
<rect x="386.6" y="166.1" width="159" height="128.2" fill="none" stroke="#525252" stroke-width="1.3"/>
<path d="M393.15 294.3v2.8M406.4 294.3v2.8M419.65 294.3v2.8M432.9 294.3v2.8M446.15 294.3v2.8M459.4 294.3v2.8M472.65 294.3v2.8M485.9 294.3v2.8M499.15 294.3v2.8M512.4 294.3v2.8M525.65 294.3v2.8M538.9 294.3v2.8M386.6 292.1h-2.8M386.6 280.85h-2.8M386.6 269.6h-2.8M386.6 258.35h-2.8M386.6 247.1h-2.8M386.6 235.85h-2.8M386.6 224.6h-2.8M386.6 213.35h-2.8M386.6 202.1h-2.8M386.6 190.85h-2.8M386.6 179.6h-2.8M386.6 168.35h-2.8" stroke="#333" stroke-width="0.8" fill="none"/>
<text class="t" x="393.15" y="303.3" transform="rotate(0.1 393.15 303.3)" font-size="6.3" text-anchor="middle">1</text>
<text class="t" x="406.4" y="303.3" transform="rotate(0.1 406.4 303.3)" font-size="6.3" text-anchor="middle">2</text>
<text class="t" x="419.65" y="303.3" transform="rotate(0.1 419.65 303.3)" font-size="6.3" text-anchor="middle">3</text>
<text class="t" x="432.9" y="303.3" transform="rotate(0.1 432.9 303.3)" font-size="6.3" text-anchor="middle">4</text>
<text class="t" x="446.15" y="303.3" transform="rotate(0.1 446.15 303.3)" font-size="6.3" text-anchor="middle">5</text>
<text class="t" x="459.4" y="303.3" transform="rotate(0.1 459.4 303.3)" font-size="6.3" text-anchor="middle">6</text>
<text class="t" x="472.65" y="303.3" transform="rotate(0.1 472.65 303.3)" font-size="6.3" text-anchor="middle">7</text>
<text class="t" x="485.9" y="303.3" transform="rotate(0.1 485.9 303.3)" font-size="6.3" text-anchor="middle">8</text>
<text class="t" x="499.15" y="303.3" transform="rotate(0.1 499.15 303.3)" font-size="6.3" text-anchor="middle">9</text>
<text class="t" x="512.4" y="303.3" transform="rotate(0.1 512.4 303.3)" font-size="6.3" text-anchor="middle">10</text>
<text class="t" x="525.65" y="303.3" transform="rotate(0.1 525.65 303.3)" font-size="6.3" text-anchor="middle">11</text>
<text class="t" x="538.9" y="303.3" transform="rotate(0.1 538.9 303.3)" font-size="6.3" text-anchor="middle">12</text>
<text class="t" x="382.6" y="294.3" transform="rotate(0.1 382.6 294.3)" font-size="6.3" text-anchor="end">20</text>
<text class="t" x="382.6" y="283.05" transform="rotate(0.1 382.6 283.05)" font-size="6.3" text-anchor="end">21</text>
<text class="t" x="382.6" y="271.8" transform="rotate(0.1 382.6 271.8)" font-size="6.3" text-anchor="end">22</text>
<text class="t" x="382.6" y="260.55" transform="rotate(0.1 382.6 260.55)" font-size="6.3" text-anchor="end">23</text>
<text class="t" x="382.6" y="249.3" transform="rotate(0.1 382.6 249.3)" font-size="6.3" text-anchor="end">24</text>
<text class="t" x="382.6" y="238.05" transform="rotate(0.1 382.6 238.05)" font-size="6.3" text-anchor="end">25</text>
<text class="t" x="382.6" y="226.8" transform="rotate(0.1 382.6 226.8)" font-size="6.3" text-anchor="end">26</text>
<text class="t" x="382.6" y="215.55" transform="rotate(0.1 382.6 215.55)" font-size="6.3" text-anchor="end">27</text>
<text class="t" x="382.6" y="204.3" transform="rotate(0.1 382.6 204.3)" font-size="6.3" text-anchor="end">28</text>
<text class="t" x="382.6" y="193.05" transform="rotate(0.1 382.6 193.05)" font-size="6.3" text-anchor="end">29</text>
<text class="t" x="382.6" y="181.8" transform="rotate(0.1 382.6 181.8)" font-size="6.3" text-anchor="end">30</text>
<text class="t" x="382.6" y="170.55" transform="rotate(0.1 382.6 170.55)" font-size="6.3" text-anchor="end">31</text>
<text class="a" x="466.1" y="310.1" transform="rotate(0.1 466.1 310.1)" font-size="6.6" text-anchor="middle">Horizon</text>
<text class="a" x="466.1" y="163.9" transform="rotate(0.1 466.1 163.9)" font-size="6.6" text-anchor="middle">PEMS08</text>
<text class="a" x="375" y="230.2" transform="rotate(-89.9 375 230.2)" font-size="6.6" text-anchor="middle">RMSE</text>
</g>
<g opacity="0.5"><use href="#c" x="0.5" y="0.5"/></g>
<g opacity="0.3333"><use href="#c" x="0.5" y="0"/></g>
<g opacity="0.25"><use href="#c" x="0" y="0.5"/></g>
</svg>
</body></html>
